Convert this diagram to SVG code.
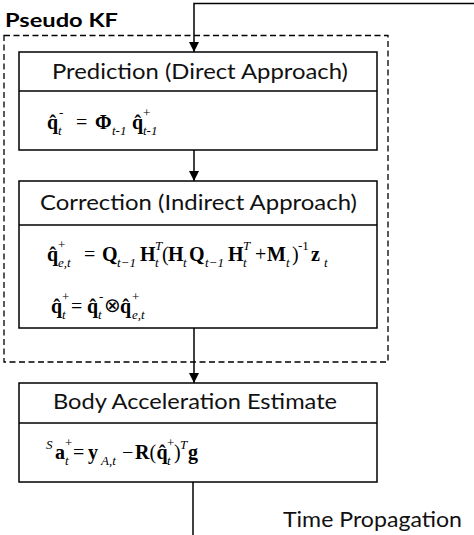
<svg xmlns="http://www.w3.org/2000/svg" width="474" height="535" viewBox="0 0 474 535">
<style>
.box{fill:#fff;stroke:#000;stroke-width:1.5}
.div{stroke:#000;stroke-width:1.5}
.title{font-family:Lato,"Liberation Sans",sans-serif;font-size:22px;fill:#111}
.m{font-family:"Liberation Serif","Times New Roman",serif;font-size:20px;font-weight:bold;fill:#000}
.mr{font-family:"Liberation Serif","Times New Roman",serif;font-size:20px;fill:#000}
.s{font-family:"Liberation Serif","Times New Roman",serif;font-size:13px;font-style:italic;fill:#000}
.sr{font-family:"Liberation Serif","Times New Roman",serif;font-size:13px;fill:#000}
.con{fill:none;stroke:#000;stroke-width:1.5}
</style>
<defs>
<marker id="arr" markerWidth="10" markerHeight="11" refX="10" refY="5" orient="auto" markerUnits="userSpaceOnUse">
<path d="M0,0 L10,5 L0,10 z" fill="#000"/>
</marker>
</defs>
<rect width="474" height="535" fill="#fff"/>

<g id="pseudo-kf">
<rect x="4" y="35.5" width="384" height="326.5" fill="none" stroke="#000" stroke-width="1.3" stroke-dasharray="6,3.5"/>
<text x="5" y="27" font-family="Lato,'Liberation Sans',sans-serif" font-size="19" font-weight="bold" fill="#000" textLength="113" lengthAdjust="spacingAndGlyphs">Pseudo KF</text>
</g>

<g id="prediction">
<rect class="box" x="19" y="52" width="358" height="98"/>
<line class="div" x1="19" y1="91" x2="377" y2="91"/>
<text class="title" x="52" y="79" textLength="296" lengthAdjust="spacingAndGlyphs">Prediction (Direct Approach)</text>
<text class="m" x="47" y="129">q̂</text>
<text class="sr" x="59" y="117">-</text>
<text class="s" x="58" y="135">t</text>
<text class="mr" x="76" y="129">=</text>
<text class="m" x="95" y="129">Φ</text>
<text class="s" x="112" y="135">t-1</text>
<text class="m" x="132" y="129">q̂</text>
<text class="sr" x="143" y="117">+</text>
<text class="s" x="143" y="135">t-1</text>
</g>

<g id="correction">
<rect class="box" x="19" y="181" width="358" height="147"/>
<line class="div" x1="19" y1="225" x2="377" y2="225"/>
<text class="title" x="40" y="210" textLength="317" lengthAdjust="spacingAndGlyphs">Correction (Indirect Approach)</text>
<text class="m" x="47" y="261">q̂</text>
<text class="sr" x="58" y="249">+</text>
<text class="s" x="58" y="267">e,t</text>
<text class="mr" x="84" y="261">=</text>
<text class="m" x="102" y="261">Q</text>
<text class="s" x="117" y="267">t−1</text>
<text class="m" x="140" y="261">H</text>
<text class="s" x="155" y="250">T</text>
<text class="s" x="155" y="267">t</text>
<text class="mr" x="162" y="261">(</text>
<text class="m" x="168" y="261">H</text>
<text class="s" x="183" y="267">t</text>
<text class="m" x="189" y="261">Q</text>
<text class="s" x="205" y="267">t−1</text>
<text class="m" x="228" y="261">H</text>
<text class="s" x="243" y="250">T</text>
<text class="s" x="243" y="267">t</text>
<text class="mr" x="255" y="261">+</text>
<text class="m" x="267" y="261">M</text>
<text class="s" x="286" y="267">t</text>
<text class="mr" x="292" y="261">)</text>
<text class="sr" x="298" y="250">-1</text>
<text class="m" x="311" y="261">z</text>
<text class="s" x="324" y="267">t</text>
<text class="m" x="51" y="313">q̂</text>
<text class="sr" x="62" y="301">+</text>
<text class="s" x="62" y="319">t</text>
<text class="mr" x="71" y="313">=</text>
<text class="m" x="87" y="313">q̂</text>
<text class="sr" x="99" y="301">-</text>
<text class="s" x="98" y="319">t</text>
<text class="mr" x="104" y="312" font-size="16">⊗</text>
<text class="m" x="120" y="313">q̂</text>
<text class="sr" x="132" y="301">+</text>
<text class="s" x="132" y="319">e,t</text>
</g>

<g id="body-acceleration">
<rect class="box" x="19" y="383" width="358" height="99"/>
<line class="div" x1="19" y1="423" x2="377" y2="423"/>
<text class="title" x="53" y="409" textLength="284" lengthAdjust="spacingAndGlyphs">Body Acceleration Estimate</text>
<text class="s" x="46" y="449">S</text>
<text class="m" x="55" y="459">a</text>
<text class="sr" x="65" y="447">+</text>
<text class="s" x="65" y="465">t</text>
<text class="mr" x="73" y="459">=</text>
<text class="m" x="88" y="459">y</text>
<text class="s" x="101" y="465">A,t</text>
<text class="mr" x="122" y="459">−</text>
<text class="m" x="135" y="459">R</text>
<text class="mr" x="149.5" y="459">(</text>
<text class="m" x="156.5" y="459">q̂</text>
<text class="sr" x="167" y="447">+</text>
<text class="s" x="167" y="465">t</text>
<text class="mr" x="174" y="459">)</text>
<text class="s" x="180" y="449">T</text>
<text class="m" x="188" y="459">g</text>
</g>

<g id="time-propagation">
<text class="title" x="283" y="527" font-size="21" textLength="179" lengthAdjust="spacingAndGlyphs">Time Propagation</text>
</g>

<g id="connectors">
<polyline class="con" points="474,3.5 194,3.5 194,52" marker-end="url(#arr)"/>
<line class="con" x1="194" y1="150" x2="194" y2="181" marker-end="url(#arr)"/>
<line class="con" x1="194" y1="328" x2="194" y2="383" marker-end="url(#arr)"/>
<line class="con" x1="193" y1="482" x2="193" y2="535"/>
</g>
</svg>
